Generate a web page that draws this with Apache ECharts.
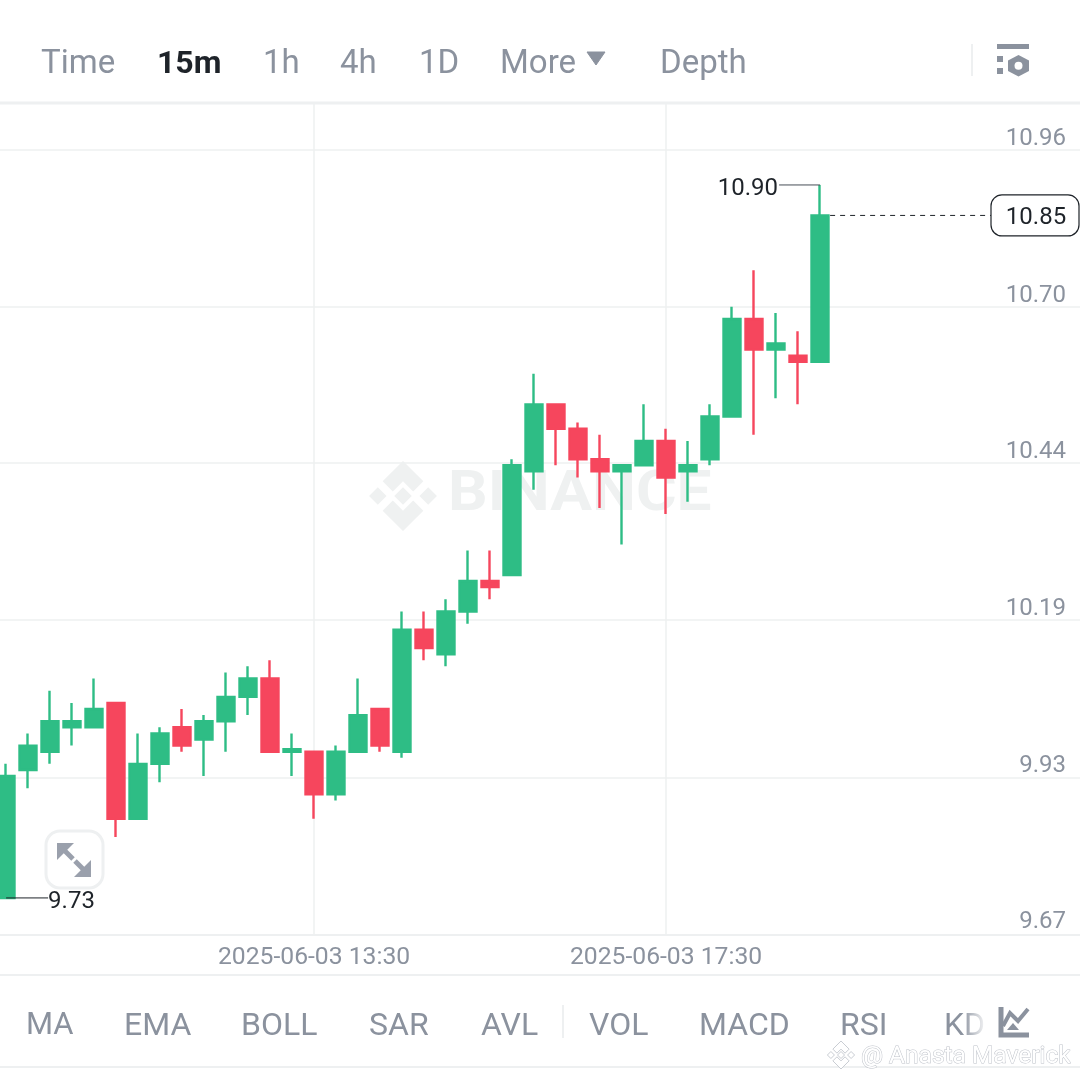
<!DOCTYPE html>
<html>
<head>
<meta charset="utf-8">
<title>15m chart</title>
<script src="https://cdn.jsdelivr.net/npm/echarts@6/dist/echarts.min.js"></script>
<style>
html, body { margin: 0; padding: 0; background: #fff; }
#chart { width: 1080px; height: 1080px; }
</style>
</head>
<body>
<div id="chart"></div>
<script>
var datePrefix = '2025-06-03 ';
var times = ['10:00','10:15','10:30','10:45','11:00','11:15','11:30','11:45','12:00','12:15',
	'12:30','12:45','13:00','13:15','13:30','13:45','14:00','14:15','14:30','14:45',
	'15:00','15:15','15:30','15:45','16:00','16:15','16:30','16:45','17:00','17:15',
	'17:30','17:45','18:00','18:15','18:30','18:45','19:00','19:15','19:30','19:45',
	'20:00','20:15','20:30','20:45','21:00','21:15','21:30','21:45','22:00','22:15'];
var labelledTimes = ['13:30', '17:30'];

var openValues = [9.73,9.94,9.97,10.01,10.01,10.05,9.86,9.95,10.01,9.99,
	10.02,10.06,10.09,9.97,9.97,9.90,9.97,10.04,9.97,10.17,
	10.13,10.20,10.25,10.26,10.43,10.54,10.50,10.45,10.43,10.44,
	10.48,10.43,10.45,10.52,10.68,10.63,10.62,10.61];
var closeValues = [9.93,9.98,10.02,10.02,10.04,9.86,9.95,10.00,9.98,10.02,
	10.06,10.09,9.97,9.974,9.90,9.97,10.03,9.98,10.17,10.14,
	10.20,10.25,10.24,10.44,10.54,10.50,10.45,10.43,10.44,10.48,
	10.42,10.44,10.52,10.68,10.63,10.64,10.61,10.85];
var lowValues = [9.73,9.91,9.95,9.98,10.01,9.83,9.86,9.92,9.97,9.93,
	9.97,10.03,9.97,9.93,9.86,9.89,9.97,9.97,9.96,10.12,
	10.11,10.18,10.22,10.26,10.40,10.44,10.42,10.37,10.31,10.44,
	10.36,10.38,10.44,10.52,10.49,10.55,10.54,10.61];
var highValues = [9.95,10.00,10.07,10.05,10.09,10.05,10.00,10.01,10.04,10.03,
	10.10,10.11,10.12,10.00,9.97,9.98,10.09,10.04,10.20,10.20,
	10.22,10.30,10.30,10.45,10.59,10.54,10.51,10.49,10.44,10.54,
	10.50,10.48,10.54,10.70,10.76,10.69,10.66,10.90];
var yTicks = [9.67, 9.928, 10.186, 10.444, 10.70, 10.958];

var timeTabs = ['Time', '15m', '1h', '4h', '1D', 'More', 'Depth'];
var indicatorTabs = ['MA', 'EMA', 'BOLL', 'SAR', 'AVL', 'VOL', 'MACD', 'RSI', 'KD'];

var upColor = '#2EBD85';
var downColor = '#F6465D';
var inkColor = '#1E2329';
var mutedColor = '#8B929E';
var lineColor = '#EEF0F1';
var fontName = 'Roboto';

var candleData = openValues.map(function (o, i) {
	return [o, closeValues[i], lowValues[i], highValues[i]];
});
var lastIndex = candleData.length - 1;

function label(text, x, y, size, color, align, weight) {
	return {
		type: 'text',
		z: 5,
		style: {
			text: text, x: x, y: y,
			fill: color,
			align: align || 'left',
			verticalAlign: 'middle',
			font: (weight || 'normal') + ' ' + size + 'px ' + fontName
		}
	};
}

function hline(x1, x2, y, width) {
	return { type: 'line', z: 1, shape: { x1: x1, y1: y, x2: x2, y2: y }, style: { stroke: lineColor, lineWidth: width } };
}

function logo(cx, cy, r, style, z) {
	var shapes = [
		[[0, -.25], [.25, 0], [0, .25], [-.25, 0]],
		[[-.72, -.25], [-.47, 0], [-.72, .25], [-.97, 0]],
		[[.72, -.25], [.97, 0], [.72, .25], [.47, 0]],
		[[0, -1], [.58, -.42], [.29, -.13], [0, -.42], [-.29, -.13], [-.58, -.42]],
		[[0, 1], [.58, .42], [.29, .13], [0, .42], [-.29, .13], [-.58, .42]]
	];
	return shapes.map(function (pts) {
		return {
			type: 'polygon', z: z,
			shape: { points: pts.map(function (p) { return [cx + p[0] * r, cy + p[1] * r]; }) },
			style: style
		};
	});
}

var timeX = [41, 157, 263, 340, 419, 500, 660];
var indicatorX = [26, 124, 241, 369, 481, 589, 699, 840, 944];

var graphics = [];
// page chrome
graphics.push(hline(0, 1080, 103, 3), hline(0, 1080, 975, 2), hline(0, 1080, 1067, 2));
timeTabs.forEach(function (t, i) {
	var active = t === '15m';
	graphics.push(label(t, timeX[i], 65, active ? 32 : 33, active ? inkColor : mutedColor, 'left', active ? 'bold' : 'normal'));
});
graphics.push({ type: 'polygon', z: 5, shape: { points: [[587, 52], [605, 52], [596, 65]] }, style: { fill: mutedColor, stroke: mutedColor, lineWidth: 1, lineJoin: 'round' } });
graphics.push({ type: 'rect', z: 5, shape: { x: 971, y: 44, width: 2, height: 32 }, style: { fill: lineColor } });
// settings icon
graphics.push(
	{ type: 'rect', z: 5, shape: { x: 997, y: 44, width: 32, height: 5 }, style: { fill: mutedColor } },
	{ type: 'rect', z: 5, shape: { x: 997, y: 56, width: 6, height: 6 }, style: { fill: mutedColor } },
	{ type: 'rect', z: 5, shape: { x: 997, y: 68, width: 6, height: 6 }, style: { fill: mutedColor } },
	{ type: 'polygon', z: 5, shape: { points: [[1018.5, 55], [1029, 60.5], [1029, 71], [1018.5, 76.5], [1008, 71], [1008, 60.5]] }, style: { fill: mutedColor } },
	{ type: 'circle', z: 6, shape: { cx: 1018.5, cy: 65.7, r: 4 }, style: { fill: '#fff' } }
);

indicatorTabs.forEach(function (t, i) {
	graphics.push(label(t, indicatorX[i], 1026.5, i === 0 ? 31 : 32, mutedColor));
});
graphics.push({ type: 'rect', z: 5, shape: { x: 562, y: 1005, width: 2, height: 33 }, style: { fill: lineColor } });
graphics.push({
	type: 'rect', z: 6, shape: { x: 962, y: 1004, width: 30, height: 40 },
	style: { fill: { type: 'linear', x: 0, y: 0, x2: 1, y2: 0, colorStops: [{ offset: 0, color: 'rgba(255,255,255,0)' }, { offset: .85, color: '#fff' }] } }
});
// indicator icon
graphics.push(
	{ type: 'polyline', z: 7, shape: { points: [[1001, 1007], [1001, 1035], [1029, 1035]] }, style: { stroke: mutedColor, lineWidth: 5, fill: 'none' } },
	{ type: 'polyline', z: 7, shape: { points: [[1003, 1026], [1010, 1013], [1018, 1021], [1028, 1009]] }, style: { stroke: mutedColor, lineWidth: 4, fill: 'none' } },
	{ type: 'polygon', z: 7, shape: { points: [[1007, 1030], [1013, 1023], [1019, 1030]] }, style: { fill: mutedColor } }
);

// centre watermark, below the candles
graphics = graphics.concat(logo(403, 496, 35, { fill: '#EFF1F1' }, 0));
graphics.push({
	type: 'text', z: 0, x: 448, y: 496, scaleX: 1.11,
	style: { text: 'BINANCE', x: 0, y: 0, fill: '#EFF1F1', verticalAlign: 'middle', font: 'bold 56px ' + fontName }
});

// expand button
graphics.push({ type: 'rect', z: 8, shape: { x: 46, y: 831, width: 57, height: 57, r: 14 }, style: { fill: '#fff', stroke: lineColor, lineWidth: 3 } });
graphics.push(
	{ type: 'polygon', z: 9, shape: { points: [[57, 843], [74, 843], [57, 860]] }, style: { fill: '#9AA0AC' } },
	{ type: 'polygon', z: 9, shape: { points: [[91, 877], [74, 877], [91, 860]] }, style: { fill: '#9AA0AC' } },
	{ type: 'line', z: 9, shape: { x1: 63, y1: 849, x2: 73, y2: 859 }, style: { stroke: '#9AA0AC', lineWidth: 5 } },
	{ type: 'line', z: 9, shape: { x1: 75, y1: 861, x2: 85, y2: 871 }, style: { stroke: '#9AA0AC', lineWidth: 5 } }
);

// footer watermark
graphics = graphics.concat(logo(841, 1055, 14, { fill: '#fff', stroke: '#C9CDD3', lineWidth: 1 }, 10));
graphics.push({
	type: 'text', z: 10,
	style: { text: '@ Anasta Maverick', x: 861, y: 1057, fill: '#fff', stroke: '#BFC3CA', lineWidth: 1, verticalAlign: 'middle', font: '24.5px ' + fontName }
});

var chart = echarts.init(document.getElementById('chart'));
chart.setOption({
	backgroundColor: '#fff',
	animation: false,
	grid: { left: -4.9, right: -15.1, top: 103, bottom: 145.5, containLabel: false, outerBoundsMode: 'none' },
	xAxis: {
		type: 'category',
		data: times,
		boundaryGap: true,
		axisLine: { show: true, lineStyle: { color: lineColor, width: 2 } },
		axisTick: { show: false },
		axisLabel: {
			margin: 10,
			fontFamily: fontName,
			fontSize: 24.7,
			lineHeight: 26,
			color: mutedColor,
			interval: function (i, v) { return labelledTimes.indexOf(v) >= 0; },
			formatter: function (v) { return datePrefix + v; }
		},
		splitLine: {
			show: true,
			alignWithLabel: true,
			interval: function (i, v) { return labelledTimes.indexOf(v) >= 0; },
			lineStyle: { color: lineColor, width: 1.5 }
		}
	},
	yAxis: {
		type: 'value',
		position: 'right',
		scale: true,
		min: 9.67,
		max: 11.0345,
		axisLine: { show: false },
		axisTick: { show: false, customValues: yTicks },
		splitLine: { show: true, lineStyle: { color: lineColor, width: 1.5 } },
		axisLabel: {
			inside: true,
			margin: 29.1,
			customValues: yTicks,
			fontFamily: fontName,
			fontSize: 24,
			lineHeight: 22,
			verticalAlign: 'bottom',
			color: mutedColor,
			formatter: function (v) {
				return v === yTicks[0] ? '{low|' + v.toFixed(2) + '}' : v.toFixed(2);
			},
			rich: { low: { fontFamily: fontName, fontSize: 24, lineHeight: 22, color: mutedColor, padding: [0, 0, 4, 0] } }
		}
	},
	series: [{
		type: 'candlestick',
		data: candleData,
		barWidth: 17,
		itemStyle: { color: upColor, color0: downColor, borderColor: upColor, borderColor0: downColor, borderWidth: 2.4 }
	}, {
		type: 'custom',
		z: 6,
		silent: true,
		data: [[lastIndex, highValues[lastIndex]]],
		encode: { x: 0, y: 1 },
		renderItem: function (params, api) {
			var p = api.coord([api.value(0), api.value(1)]);
			return { type: 'group', children: [
				{ type: 'line', shape: { x1: p[0] - 41, y1: p[1], x2: p[0], y2: p[1] }, style: { stroke: '#474D57', lineWidth: 1 } },
				{ type: 'text', style: { text: api.value(1).toFixed(2), x: p[0] - 42, y: p[1] + 4, align: 'right', verticalAlign: 'middle', fill: inkColor, font: '24px ' + fontName } }
			] };
		}
	}, {
		type: 'custom',
		z: 6,
		silent: true,
		data: [[0, lowValues[0]]],
		encode: { x: 0, y: 1 },
		renderItem: function (params, api) {
			var p = api.coord([api.value(0), api.value(1)]);
			return { type: 'group', children: [
				{ type: 'line', shape: { x1: p[0], y1: p[1], x2: p[0] + 42, y2: p[1] }, style: { stroke: inkColor, lineWidth: 1 } },
				{ type: 'text', style: { text: api.value(1).toFixed(2), x: p[0] + 42, y: p[1] + 4, align: 'left', verticalAlign: 'middle', fill: inkColor, font: '24px ' + fontName } }
			] };
		}
	}, {
		type: 'custom',
		z: 6,
		silent: true,
		data: [[lastIndex, closeValues[lastIndex]]],
		encode: { x: 0, y: 1 },
		renderItem: function (params, api) {
			var p = api.coord([api.value(0), api.value(1)]);
			return { type: 'group', children: [
				{ type: 'line', shape: { x1: p[0] + 10, y1: p[1], x2: 991, y2: p[1] }, style: { stroke: inkColor, lineWidth: 1, lineDash: [5, 5] } },
				{ type: 'rect', shape: { x: 991, y: p[1] - 20.5, width: 88, height: 41, r: 11 }, style: { fill: '#fff', stroke: inkColor, lineWidth: 1.2 } },
				{ type: 'text', style: { text: api.value(1).toFixed(2), x: 1036, y: p[1] + 3, align: 'center', verticalAlign: 'middle', fill: inkColor, font: '24px ' + fontName } }
			] };
		}
	}],
	graphic: { elements: graphics }
});
</script>
</body>
</html>
